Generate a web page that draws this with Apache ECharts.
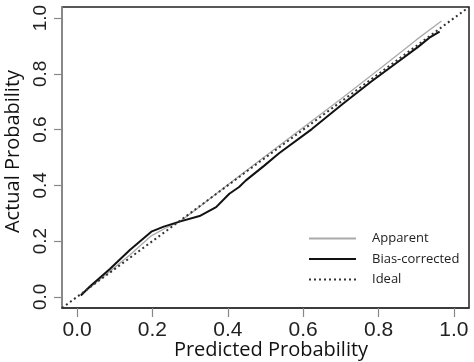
<!DOCTYPE html>
<html>
<head>
<meta charset="utf-8">
<script src="https://cdn.jsdelivr.net/npm/echarts@6/dist/echarts.min.js"></script>
<style>html,body{margin:0;padding:0;background:#fff;}#c{width:474px;height:362px;}</style>
</head>
<body>
<div id="c"></div>
<script>
// Calibration curve data (predicted probability, actual probability)
var apparent = [[0.01,0.008],[0.04,0.04],[0.09,0.095],[0.14,0.15],[0.197,0.219],[0.235,0.247],[0.27,0.268],[0.32,0.318],[0.4,0.402],[0.5,0.505],[0.6,0.608],[0.7,0.71],[0.8,0.815],[0.9,0.922],[0.967,0.99]];
var biasCorrected = [[0.01,0.005],[0.034,0.037],[0.087,0.10],[0.14,0.168],[0.197,0.234],[0.23,0.252],[0.272,0.27],[0.325,0.29],[0.369,0.322],[0.404,0.37],[0.43,0.394],[0.448,0.418],[0.496,0.47],[0.536,0.515],[0.623,0.602],[0.703,0.69],[0.78,0.772],[0.85,0.842],[0.905,0.897],[0.935,0.93],[0.962,0.952]];
var ideal = [[-0.04,-0.04],[1.04,1.04]];
var xTicks = [0, 0.2, 0.4, 0.6, 0.8, 1.0];
var yTicks = [0, 0.2, 0.4, 0.6, 0.8, 1.0];

var chart = echarts.init(document.getElementById('c'));
var titleFont = '"Open Sans", "Noto Sans", sans-serif';
var tickFont = '"Liberation Sans", Arial, sans-serif';
chart.setOption({
  animation: false,
  backgroundColor: '#fff',
  grid: {left: 62, right: 5, top: 7, bottom: 54, show: true, borderColor: '#222', borderWidth: 1.5,
         backgroundColor: 'transparent', outerBoundsMode: 'none', containLabel: false},
  legend: {
    orient: 'vertical', left: 303, top: 227,
    itemWidth: 47, itemHeight: 12, itemGap: 7.5,
    itemStyle: {color: 'transparent', borderWidth: 0, opacity: 0},
    textStyle: {fontFamily: titleFont, fontSize: 13, color: '#222', padding: [0,0,0,11]},
    data: ['Apparent', 'Bias-corrected', 'Ideal']
  },
  xAxis: {
    type: 'value', min: -0.04, max: 1.04,
    axisLine: {show: true, onZero: false, lineStyle: {color: '#333', width: 1.5}}, splitLine: {show: false},
    axisTick: {show: true, inside: false, length: 9, customValues: xTicks, lineStyle: {color: '#888', width: 1.2}},
    axisLabel: {margin: 12, fontSize: 21, color: '#222', fontFamily: tickFont, customValues: xTicks,
                formatter: function(v){return v.toFixed(1);}},
    name: 'Predicted Probability', nameLocation: 'middle', nameGap: 32, nameMoveOverlap: false,
    nameTextStyle: {fontSize: 20, color: '#111', fontFamily: titleFont, padding: [0,0,0,11]}
  },
  yAxis: {
    type: 'value', min: -0.04, max: 1.04,
    axisLine: {show: true, onZero: false, lineStyle: {color: '#999', width: 1.5}}, splitLine: {show: false},
    axisTick: {show: true, inside: false, length: 8, customValues: yTicks, lineStyle: {color: '#888', width: 1.2}},
    axisLabel: {margin: 12, rotate: 90, align: 'center', verticalAlign: 'bottom', fontSize: 19, color: '#222',
                fontFamily: tickFont, customValues: yTicks,
                formatter: function(v){return v.toFixed(1);}},
    name: 'Actual Probability', nameLocation: 'middle', nameGap: 39, nameMoveOverlap: false,
    nameTextStyle: {fontSize: 20, color: '#111', fontFamily: titleFont, padding: [0,0,0,12]}
  },
  series: [
    {name: 'Apparent', type: 'line', data: apparent, symbol: 'none',
     lineStyle: {color: '#aaaaaa', width: 1.3}, itemStyle: {color: '#aaaaaa'}, z: 2},
    {name: 'Bias-corrected', type: 'line', data: biasCorrected, symbol: 'none',
     lineStyle: {color: '#111', width: 2}, itemStyle: {color: '#111'}, z: 3},
    {name: 'Ideal', type: 'line', data: ideal, symbol: 'none',
     lineStyle: {color: '#333', width: 2, type: [2, 3]}, itemStyle: {color: '#333'}, z: 4}
  ]
});
</script>
</body>
</html>
